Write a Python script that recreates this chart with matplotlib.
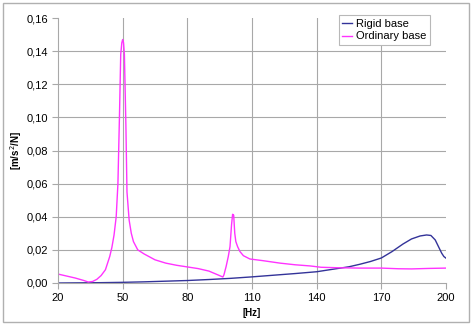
import numpy as np
import matplotlib
matplotlib.use("Agg")
import matplotlib.pyplot as plt
from matplotlib.patches import Rectangle

plt.rcParams['font.family'] = ['Liberation Sans', 'DejaVu Sans']

# frequency response, rigid base
rigid_hz = [20, 30, 40, 50, 60, 70, 80, 90, 100, 110, 120, 130, 140, 150, 155,
            160, 165, 170, 175, 180, 184, 188, 191, 193, 195, 196.5, 198, 199, 200]
rigid_val = [0.0000, 0.0001, 0.0002, 0.0004, 0.0007, 0.0011, 0.0015, 0.0021, 0.0028,
             0.0037, 0.0047, 0.0057, 0.0068, 0.0088, 0.0098, 0.0113, 0.0130, 0.0151,
             0.0190, 0.0235, 0.0266, 0.0284, 0.0290, 0.0287, 0.0260, 0.0220, 0.0180,
             0.0160, 0.0150]

# frequency response, ordinary base
ordinary_hz = [20, 24, 28, 32, 34, 36, 38, 40, 42, 43, 44, 45, 46, 47, 47.8, 48.5, 49.1,
               49.6, 50, 50.4, 50.8, 51.5, 52, 53, 54, 55, 57, 60, 65, 70, 75, 80, 85, 90,
               94, 96.5, 97, 98, 99, 99.8, 100.5, 101, 101.5, 102, 102.5, 103.3, 104.4,
               106, 109, 115, 123, 130, 137, 142, 150, 160, 170, 178, 184, 192, 200]
ordinary_val = [0.0054, 0.0042, 0.0030, 0.0015, 0.0006, 0.0009, 0.0022, 0.0045, 0.0080,
                0.0120, 0.0160, 0.0215, 0.0290, 0.0400, 0.0600, 0.1000, 0.1380, 0.1450,
                0.1470, 0.1450, 0.1380, 0.0950, 0.0550, 0.0380, 0.0300, 0.0250, 0.0200,
                0.0175, 0.0140, 0.0120, 0.0107, 0.0097, 0.0087, 0.0072, 0.0050, 0.0036,
                0.0050, 0.0100, 0.0160, 0.0220, 0.0350, 0.0415, 0.0410, 0.0300, 0.0250,
                0.0220, 0.0190, 0.0165, 0.0145, 0.0135, 0.0120, 0.0110, 0.0103, 0.0095,
                0.0092, 0.0090, 0.0090, 0.0086, 0.0085, 0.0088, 0.0090]

x_ticks = [20, 50, 80, 110, 140, 170, 200]
y_ticks = [0.00, 0.02, 0.04, 0.06, 0.08, 0.10, 0.12, 0.14, 0.16]

grid_color = '#a8a8a8'

fig = plt.figure(figsize=(4.74, 3.26), dpi=100)
ax = fig.add_axes([58 / 474, 1 - 283 / 326, 388 / 474, 265 / 326])

# inner grid only, no lines on the plot edges
for x in x_ticks[1:-1]:
    ax.axvline(x, color=grid_color, lw=0.8, zorder=0)
for y in y_ticks[1:-1]:
    ax.axhline(y, color=grid_color, lw=0.8, zorder=0)

ax.plot(rigid_hz, rigid_val, color='#333399', lw=1.0, label='Rigid base')
ax.plot(ordinary_hz, ordinary_val, color='#ff33ff', lw=1.0, label='Ordinary base')

ax.set_xlim(20, 200)
ax.set_ylim(0, 0.16)
ax.set_xticks(x_ticks)
ax.set_yticks(y_ticks)
ax.set_yticklabels(['{:.2f}'.format(v).replace('.', ',') for v in y_ticks])

for side in ['top', 'right']:
    ax.spines[side].set_visible(False)
for side in ['left', 'bottom']:
    ax.spines[side].set_color(grid_color)
    ax.spines[side].set_linewidth(0.8)
ax.tick_params(length=4, width=0.8, color=grid_color, labelsize=8, pad=3)

ax.set_xlabel('[Hz]', fontsize=7, fontweight='bold', labelpad=4)
ax.set_ylabel('[m/s$^2$/N]', fontsize=7, fontweight='bold')
ax.yaxis.set_label_coords(-34 / 388, 0.5)

leg = ax.legend(loc='upper right', bbox_to_anchor=(0.959, 1.012), borderaxespad=0,
                fontsize=8, handlelength=0.9, handletextpad=0.3, borderpad=0.35,
                labelspacing=0.25, fancybox=False, framealpha=1)
leg.get_frame().set_edgecolor('#b8b8b8')
leg.get_frame().set_linewidth(0.8)

# chart area border
fig.patches.append(Rectangle((3 / 474, 4 / 326), 466 / 474, 319 / 326,
                             transform=fig.transFigure, fill=False,
                             edgecolor='#b0b0b0', lw=1.0))

fig.savefig('out.png', dpi=100)
